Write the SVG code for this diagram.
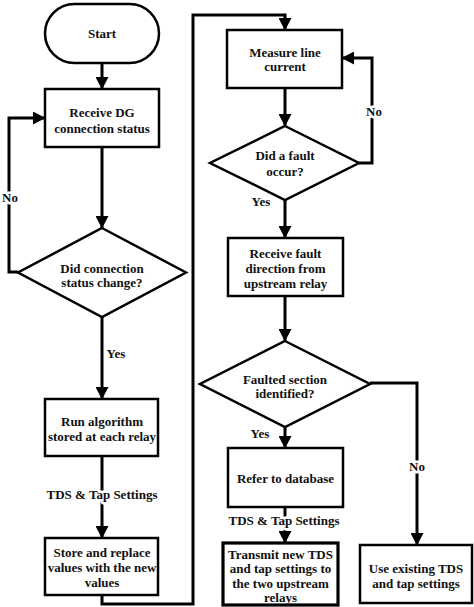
<svg xmlns="http://www.w3.org/2000/svg" width="474" height="607" viewBox="0 0 474 607">
<style>
.box{fill:#fff;stroke:#000;stroke-width:2.5}
.t{font-family:"Liberation Serif","Times New Roman",serif;font-weight:bold;font-size:13px;fill:#111;text-anchor:middle}
.lbl{font-family:"Liberation Serif","Times New Roman",serif;font-weight:bold;font-size:13px;fill:#111;text-anchor:middle;stroke:#fff;stroke-width:5;paint-order:stroke;stroke-linejoin:round}
.c{fill:none;stroke:#000;stroke-width:3}
</style>
<defs>
<marker id="ah" markerUnits="userSpaceOnUse" markerWidth="13" markerHeight="13" viewBox="0 0 13 13" refX="12" refY="6.5" orient="auto">
<path d="M0,0 L12.5,6.5 L0,13 Z" fill="#000"/>
</marker>
</defs>
<rect width="474" height="607" fill="#fff"/>
<g id="connectors">
<path class="c" d="M102,63 V89" marker-end="url(#ah)"/>
<path class="c" d="M102,147 V228" marker-end="url(#ah)"/>
<path class="c" d="M18,272 H9 V118 H45" marker-end="url(#ah)"/>
<path class="c" d="M102,317 V399" marker-end="url(#ah)"/>
<path class="c" d="M102,456 V538" marker-end="url(#ah)"/>
<path class="c" d="M102,595 V604 H193 V15 H285 V30" marker-end="url(#ah)"/>
<path class="c" d="M285,88 V126" marker-end="url(#ah)"/>
<path class="c" d="M359,163 H372 V58 H342" marker-end="url(#ah)"/>
<path class="c" d="M285,200 V238" marker-end="url(#ah)"/>
<path class="c" d="M285,296 V341" marker-end="url(#ah)"/>
<path class="c" d="M285,427 V448" marker-end="url(#ah)"/>
<path class="c" d="M285,507 V543" marker-end="url(#ah)"/>
<path class="c" d="M370,383 H417 V545" marker-end="url(#ah)"/>
<text class="lbl" x="10" y="201.5">No</text>
<text class="lbl" x="116" y="357.5">Yes</text>
<text class="lbl" x="102" y="498.5">TDS &amp; Tap Settings</text>
<text class="lbl" x="374" y="115.5">No</text>
<text class="lbl" x="261" y="205.5">Yes</text>
<text class="lbl" x="260" y="437.5">Yes</text>
<text class="lbl" x="284" y="524.5">TDS &amp; Tap Settings</text>
<text class="lbl" x="417" y="470.5">No</text>
</g>
<g id="start">
<rect class="box" x="45" y="4" width="114" height="59" rx="29.5" ry="29.5"/>
<text class="t" x="102" y="38">Start</text>
</g>
<g id="receive-dg">
<rect class="box" x="45" y="89" width="114" height="58"/>
<text class="t" x="102" y="116.5">Receive DG</text>
<text class="t" x="102" y="132.5">connection status</text>
</g>
<g id="connection-changed">
<polygon class="box" points="102,228 186,272.5 102,317 18,272.5"/>
<text class="t" x="102" y="272.5">Did connection</text>
<text class="t" x="102" y="286.5">status change?</text>
</g>
<g id="run-algorithm">
<rect class="box" x="45" y="399" width="113" height="57"/>
<text class="t" x="102" y="425.5">Run algorithm</text>
<text class="t" x="102" y="440.5">stored at each relay</text>
</g>
<g id="store-replace">
<rect class="box" x="45" y="538" width="113" height="57"/>
<text class="t" x="102" y="556.5">Store and replace</text>
<text class="t" x="102" y="571.5">values with the new</text>
<text class="t" x="102" y="586.5">values</text>
</g>
<g id="measure">
<rect class="box" x="227" y="30" width="115" height="58"/>
<text class="t" x="285" y="56.5">Measure line</text>
<text class="t" x="285" y="70.5">current</text>
</g>
<g id="fault-occur">
<polygon class="box" points="285,126 359,163 285,200 210,163"/>
<text class="t" x="285" y="159.5">Did a fault</text>
<text class="t" x="285" y="175.5">occur?</text>
</g>
<g id="receive-fault">
<rect class="box" x="228" y="238" width="115" height="58"/>
<text class="t" x="285.5" y="257.5">Receive fault</text>
<text class="t" x="285.5" y="272.5">direction from</text>
<text class="t" x="285.5" y="287.5">upstream relay</text>
</g>
<g id="faulted-section">
<polygon class="box" points="285,341 370,384 285,427 200,384"/>
<text class="t" x="285" y="383.5">Faulted section</text>
<text class="t" x="285" y="397.5">identified?</text>
</g>
<g id="refer-database">
<rect class="box" x="228" y="448" width="115" height="59"/>
<text class="t" x="285.5" y="482.5">Refer to database</text>
</g>
<g id="transmit">
<rect class="box" x="223" y="543" width="115" height="62" style="stroke-width:3.2"/>
<text class="t" x="280.5" y="558.5">Transmit new TDS</text>
<text class="t" x="280.5" y="572.5">and tap settings to</text>
<text class="t" x="280.5" y="587.5">the two upstream</text>
<text class="t" x="280.5" y="601.5">relays</text>
</g>
<g id="use-existing">
<rect class="box" x="360" y="545" width="112" height="58"/>
<text class="t" x="416" y="572.5">Use existing TDS</text>
<text class="t" x="416" y="587.5">and tap settings</text>
</g>
</svg>
